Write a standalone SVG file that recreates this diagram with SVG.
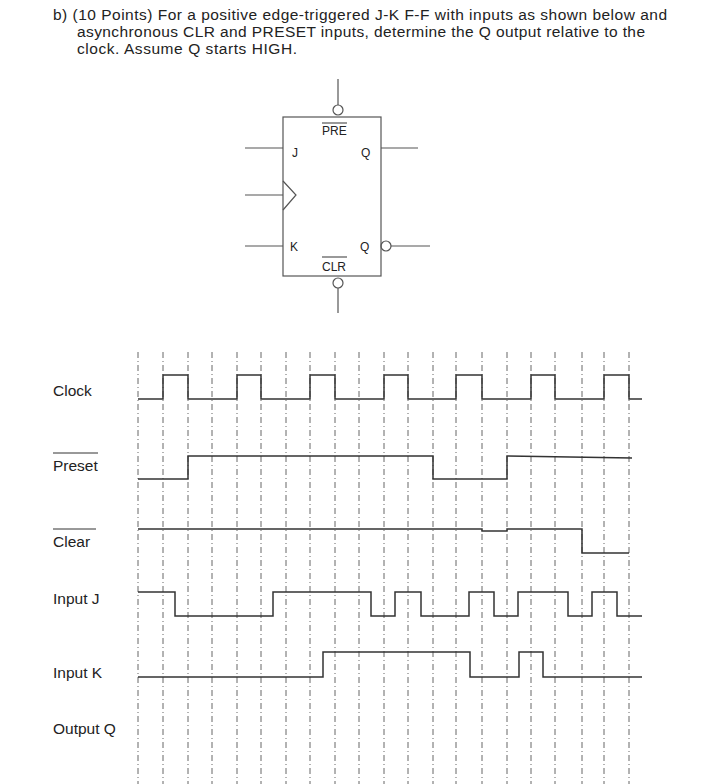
<svg xmlns="http://www.w3.org/2000/svg" width="727" height="784" viewBox="0 0 727 784">
<style>
text{font-family:"Liberation Sans",Arial,sans-serif;fill:#222}
.t{font-size:15.5px}.l{font-size:15.5px}.s{font-size:12px}
.w{fill:none;stroke:#333;stroke-width:1.5}
.g{stroke:#666;stroke-width:1;stroke-dasharray:6,3,1,3}
.k{fill:none;stroke:#555;stroke-width:1.2}
</style>
<rect width="727" height="784" fill="#fff"/>
<text class="t" x="53" y="20" textLength="614" lengthAdjust="spacing">b)  (10 Points)  For a positive edge-triggered J-K F-F with inputs as shown below and</text>
<text class="t" x="77" y="37" textLength="568" lengthAdjust="spacing">asynchronous CLR and PRESET inputs, determine the Q output relative to the</text>
<text class="t" x="77" y="54" textLength="220" lengthAdjust="spacing">clock.  Assume Q starts HIGH.</text>
<g id="ff">
<rect class="k" x="283" y="117" width="98" height="159" fill="none"/>
<line class="k" x1="338" y1="79" x2="338" y2="105"/><circle class="k" cx="338" cy="110" r="5"/>
<line class="k" x1="338" y1="288" x2="338" y2="313"/><circle class="k" cx="338" cy="283" r="5"/>
<line class="k" x1="245" y1="148" x2="283" y2="148"/>
<line class="k" x1="381" y1="148" x2="418" y2="148"/>
<line class="k" x1="245" y1="195" x2="283" y2="195"/>
<polyline class="k" points="283,181 296,195 283,210"/>
<line class="k" x1="245" y1="246" x2="283" y2="246"/>
<circle class="k" cx="386" cy="246" r="5"/><line class="k" x1="391" y1="246" x2="430" y2="246"/>
<text class="s" x="322" y="135">PRE</text><line class="k" x1="322" y1="123" x2="347" y2="123"/>
<text class="s" x="292" y="157">J</text><text class="s" x="361" y="157">Q</text>
<text class="s" x="290" y="251">K</text><text class="s" x="360" y="251">Q</text>
<text class="s" x="322" y="271">CLR</text><line class="k" x1="322" y1="257" x2="347" y2="257"/>
</g>
<g id="labels">
<text class="l" x="53" y="396">Clock</text>
<text class="l" x="53" y="471">Preset</text><line x1="53" y1="453" x2="98" y2="453" stroke="#333"/>
<text class="l" x="53" y="547">Clear</text><line x1="53" y1="529" x2="96" y2="529" stroke="#333"/>
<text class="l" x="53" y="604">Input J</text>
<text class="l" x="53" y="678">Input K</text>
<text class="l" x="53" y="734">Output Q</text>
</g>
<g id="grid">
<line class="g" x1="138" y1="352" x2="138" y2="784"/><line class="g" x1="163" y1="352" x2="163" y2="784"/><line class="g" x1="188" y1="352" x2="188" y2="784"/><line class="g" x1="212" y1="352" x2="212" y2="784"/><line class="g" x1="237" y1="352" x2="237" y2="784"/><line class="g" x1="261" y1="352" x2="261" y2="784"/><line class="g" x1="286" y1="352" x2="286" y2="784"/><line class="g" x1="310" y1="352" x2="310" y2="784"/><line class="g" x1="335" y1="352" x2="335" y2="784"/><line class="g" x1="359" y1="352" x2="359" y2="784"/><line class="g" x1="384" y1="352" x2="384" y2="784"/><line class="g" x1="408" y1="352" x2="408" y2="784"/><line class="g" x1="433" y1="352" x2="433" y2="784"/><line class="g" x1="456" y1="352" x2="456" y2="784"/><line class="g" x1="482" y1="352" x2="482" y2="784"/><line class="g" x1="507" y1="352" x2="507" y2="784"/><line class="g" x1="531" y1="352" x2="531" y2="784"/><line class="g" x1="555" y1="352" x2="555" y2="784"/><line class="g" x1="582" y1="352" x2="582" y2="784"/><line class="g" x1="604" y1="352" x2="604" y2="784"/><line class="g" x1="629" y1="352" x2="629" y2="784"/>
</g>
<g id="waves">
<polyline class="w" points="138,399 163,399 163,375 188,375 188,399 237,399 237,375 261,375 261,399 310,399 310,375 335,375 335,399 384,399 384,375 408,375 408,399 456,399 456,375 482,375 482,399 531,399 531,375 555,375 555,399 604,399 604,375 629,375 629,399 642,399"/>
<polyline class="w" points="138,479 188,479 188,456 433,456 433,479 507,479 507,456 632,458"/>
<polyline class="w" points="138,529 482,529 482,531 507,531 507,529 582,529 582,553 629,553"/>
<polyline class="w" points="138,592 175,592 175,616 273,616 273,592 371,592 371,616 395,616 395,592 421,592 421,616 469,616 469,592 494,592 494,616 518,616 518,592 568,592 568,616 592,616 592,592 617,592 617,616 642,616"/>
<polyline class="w" points="138,677 323,677 323,652 470,652 470,677 519,677 519,652 543,652 543,677 642,677"/>
</g>
</svg>
